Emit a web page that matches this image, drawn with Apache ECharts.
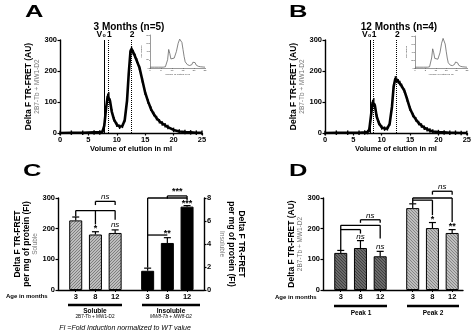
<!DOCTYPE html>
<html>
<head>
<meta charset="utf-8">
<script src="https://cdn.jsdelivr.net/npm/echarts@6/dist/echarts.min.js"></script>
<style>
  body { margin: 0; background: #fff; }
  #main { width: 474px; height: 334px; }
</style>
</head>
<body>
<div id="main"></div>
<script>
const FONT = "'Liberation Sans', Arial, sans-serif";

// elution profiles, panels A and B (ml -> delta F)
const volumes = [0, 2, 4, 6, 7, 7.5, 7.8, 8.1, 8.4, 8.6, 8.8, 9.1, 9.5, 10, 10.5, 11, 11.4, 11.8, 12.1, 12.4, 12.6, 12.9, 13.2, 13.5, 14, 14.5, 15, 15.5, 16, 16.5, 17, 17.5, 18, 18.5, 19, 20, 21, 22, 23, 24, 25]
const months3 = [0, 1, 1, 2, 2, 5, 24, 78, 120, 124, 104, 70, 44, 27, 20, 23, 42, 104, 192, 262, 272, 260, 248, 234, 210, 170, 130, 102, 78, 61, 48, 38, 31, 25, 19, 10, 5, 3, 2, 1, 1]
const months12 = [0, 1, 1, 1, 2, 3, 10, 55, 100, 106, 88, 54, 32, 18, 14, 15, 30, 84, 150, 176, 172, 167, 161, 152, 136, 108, 78, 58, 44, 32, 24, 17, 12, 8, 5, 3, 2, 1, 1, 0, 0]
const marks3 = [7.8, 8.5, 12.5]   // V0, peak 1, peak 2
const marks12 = [7.9, 8.5, 12.6]
const markNames = ['V\u2080', '1', '2']

// small insets
const insetVolumes = [0, 2, 4, 6, 7, 8, 8.5, 9, 9.5, 10, 11, 12, 12.8, 13.5, 14, 14.5, 15, 15.5, 16, 17, 18, 19, 19.5, 20, 20.5, 21, 22, 23, 25]
const inset3 = [2, 2, 2, 2, 3, 20, 45, 35, 22, 20, 24, 40, 60, 70, 70, 62, 45, 28, 15, 8, 6, 8, 14, 17, 13, 7, 4, 3, 2]
const inset12 = [2, 2, 2, 2, 3, 25, 48, 38, 24, 20, 22, 38, 62, 74, 72, 60, 42, 25, 13, 7, 6, 9, 15, 18, 13, 7, 4, 3, 2]

// bar panels C and D
const ageLabels = ['3', '8', '12', '3', '8', '12']
const barPos = [0.9, 1.9, 2.9, 4.55, 5.55, 6.55]
const solubleMean = [227, 181, 186]
const solubleSem = [11, 9, 10]
const insolubleMean = [1.67, 4.09, 7.25]
const insolubleSem = [0.23, 0.46, 0.09]
const peak1Mean = [121, 137, 110]
const peak1Sem = [8, 24, 16]
const peak2Mean = [267, 202, 186]
const peak2Sem = [14, 18, 11]

// significance brackets / labels
const solubleNotes = [
  {xs: [0.9, 1.9, 2.9], level: 259, drops: [240, 214, 229]},
  {xs: [1.9, 2.9], level: 289, drops: [277, 277]},
  {x: 1.9, y: 201, text: '*'},
  {x: 2.9, y: 213, text: 'ns', italic: true},
  {x: 2.4, y: 303, text: 'ns', italic: true}
]
const insolubleNotes = [
  {xs: [4.55, 5.55], level: 4.78, drops: [4.78, 4.78]},
  {xs: [4.55, 6.55], level: 8.0, drops: [1.95, 7.8]},
  {xs: [5.55, 6.55], level: 8.18, drops: [7.95, 7.95]},
  {x: 6.55, y: 7.55, text: '***'},
  {x: 5.55, y: 4.95, text: '**'},
  {x: 6.05, y: 8.6, text: '***'}
]
const peakNotes = [
  {xs: [0.9, 2.9], level: 211, drops: [130, 168]},
  {xs: [0.9, 1.9], level: 197, drops: [197, 184]},
  {xs: [1.9, 2.9], level: 229, drops: [219, 219]},
  {xs: [4.55, 6.55], level: 300, drops: [282, 222]},
  {xs: [4.55, 5.55], level: 293, drops: [293, 244]},
  {xs: [5.55, 6.55], level: 322, drops: [311, 311]},
  {x: 1.9, y: 172, text: 'ns', italic: true},
  {x: 2.9, y: 141, text: 'ns', italic: true},
  {x: 2.4, y: 242, text: 'ns', italic: true},
  {x: 5.55, y: 230, text: '*'},
  {x: 6.55, y: 207, text: '**'},
  {x: 6.05, y: 336, text: 'ns', italic: true}
]

function hatch(bg, fg, step, slash) {
  const c = document.createElement('canvas')
  c.width = c.height = step
  const g = c.getContext('2d')
  g.fillStyle = bg
  g.fillRect(0, 0, step, step)
  g.strokeStyle = fg
  g.lineWidth = 1
  g.beginPath()
  for (let k = -1; k <= 1; k++) {
    if (slash) {
      g.moveTo(-1, step + 1 + k * step)
      g.lineTo(step + 1, -1 + k * step)
    } else {
      g.moveTo(-1, -1 + k * step)
      g.lineTo(step + 1, step + 1 + k * step)
    }
  }
  g.stroke()
  return {image: c, repeat: 'repeat'}
}

const axisLine = {lineStyle: {color: '#000', width: 1.4}}
const tickLabel = {fontSize: 7.5, fontWeight: 'bold', color: '#000', fontFamily: FONT, margin: 3}

function yTitle(lines) {
  return lines.map(l => '{' + l[0] + '|' + l[1] + '}').join('\n')
}

const richY = {
  a: {fontSize: 8.5, fontWeight: 'bold', color: '#000', fontFamily: FONT, lineHeight: 8.5},
  b: {fontSize: 6.5, color: '#777', fontFamily: FONT, lineHeight: 8}
}

function elutionX(grid) {
  return {
    gridIndex: grid, type: 'value', min: 0, max: 25, interval: 5,
    name: 'Volume of elution in ml', nameLocation: 'middle', nameGap: 12,
    nameTextStyle: {fontSize: 7.5, fontWeight: 'bold', color: '#000', fontFamily: FONT},
    axisLine, axisTick: {length: 2.5, lineStyle: {width: 1.2}}, axisLabel: tickLabel, splitLine: {show: false}
  }
}

function deltaY(grid) {
  return {
    gridIndex: grid, type: 'value', min: 0, max: 300, interval: 100,
    name: yTitle([['a', 'Delta F TR-FRET (AU)'], ['b', '2B7-Tb + MW1-D2']]),
    nameLocation: 'middle', nameRotate: 90, nameGap: 19,
    nameTextStyle: {rich: richY},
    axisLine, axisTick: {length: 2.5, lineStyle: {width: 1.2}}, axisLabel: tickLabel, splitLine: {show: false}
  }
}

function insetX(grid) {
  return {
    gridIndex: grid, type: 'value', min: 0, max: 25, interval: 5,
    name: 'Volume of elution in ml', nameLocation: 'middle', nameGap: 4,
    nameTextStyle: {fontSize: 2.5, color: '#333', fontFamily: FONT},
    axisLine: {lineStyle: {color: '#555', width: 0.6}}, axisTick: {length: 1, lineStyle: {width: 0.5}},
    axisLabel: {fontSize: 2.5, color: '#333', margin: 1}, splitLine: {show: false}
  }
}

function insetY(grid) {
  return {
    gridIndex: grid, type: 'value', min: 0, max: 80, interval: 20,
    name: 'OD 280nm', nameLocation: 'middle', nameGap: 5, nameRotate: 90,
    nameTextStyle: {fontSize: 2.5, color: '#333', fontFamily: FONT},
    axisLine: {lineStyle: {color: '#555', width: 0.6}}, axisTick: {length: 1, lineStyle: {width: 0.5}},
    axisLabel: {fontSize: 2.5, color: '#333', margin: 1}, splitLine: {show: false}
  }
}

function ageX(grid, max) {
  return {
    gridIndex: grid, type: 'value', min: 0, max: max,
    axisLine, splitLine: {show: false},
    axisTick: {customValues: barPos, length: 2, lineStyle: {width: 1}},
    axisLabel: Object.assign({}, tickLabel, {
      customValues: barPos,
      formatter: v => {
        let best = 0
        barPos.forEach((p, i) => { if (Math.abs(p - v) < Math.abs(barPos[best] - v)) best = i })
        return ageLabels[best]
      }
    })
  }
}

function curve(xIdx, values, marks) {
  return {
    type: 'line', xAxisIndex: xIdx, yAxisIndex: xIdx,
    data: volumes.map((v, i) => [v, values[i]]),
    lineStyle: {color: '#000', width: 2.6},
    itemStyle: {color: '#000'},
    symbol: 'rect', symbolSize: [1.4, 4.5], showSymbol: true,
    markLine: {
      silent: true, symbol: 'none',
      label: {position: 'end', distance: 1, fontSize: 8.5, fontWeight: 'bold', color: '#000', fontFamily: FONT},
      data: marks.map((m, i) => ({
        xAxis: m,
        lineStyle: {color: '#000', width: 1, type: i === 0 ? 'solid' : 'dotted'},
        label: {formatter: markNames[i], offset: i === 0 ? [-3, 0] : [1, 0]}
      }))
    }
  }
}

function insetCurve(xIdx, values) {
  return {
    type: 'line', xAxisIndex: xIdx, yAxisIndex: xIdx, showSymbol: false,
    data: insetVolumes.map((v, i) => [v, values[i]]),
    lineStyle: {color: '#666', width: 0.8}
  }
}

function bars(xIdx, yIdx, means, offset, color, gap) {
  const s = {
    type: 'bar', xAxisIndex: xIdx, yAxisIndex: yIdx, barWidth: 13,
    data: means.map((v, i) => [barPos[offset + i], v]),
    itemStyle: {color: color, borderColor: '#000', borderWidth: 1}
  }
  if (gap) s.barGap = '-100%'
  return s
}

function errors(xIdx, yIdx, means, sems, offset) {
  return {
    type: 'custom', xAxisIndex: xIdx, yAxisIndex: yIdx, silent: true, z: 4,
    data: means.map((v, i) => [barPos[offset + i], v, v + sems[i]]),
    renderItem: (params, api) => {
      const p0 = api.coord([api.value(0), api.value(1)])
      const p1 = api.coord([api.value(0), api.value(2)])
      const st = {stroke: '#000', lineWidth: 1.2}
      return {type: 'group', children: [
        {type: 'line', shape: {x1: p0[0], y1: p0[1], x2: p1[0], y2: p1[1]}, style: st},
        {type: 'line', shape: {x1: p1[0] - 3.5, y1: p1[1], x2: p1[0] + 3.5, y2: p1[1]}, style: st}
      ]}
    }
  }
}

function notes(xIdx, yIdx, items) {
  return {
    type: 'custom', xAxisIndex: xIdx, yAxisIndex: yIdx, silent: true, z: 5, clip: false,
    data: items.map(it => it.xs ? [it.xs[0], it.level] : [it.x, it.y]),
    renderItem: (params, api) => {
      const it = items[params.dataIndex]
      if (it.text) {
        const p = api.coord([it.x, it.y])
        return {type: 'text', x: p[0], y: p[1], style: {
          text: it.text, fill: '#000',
          font: it.italic ? 'italic 8px ' + FONT : 'bold 9px ' + FONT,
          textAlign: 'center', textVerticalAlign: 'middle', align: 'center', verticalAlign: 'middle'
        }}
      }
      const st = {stroke: '#000', lineWidth: 1.3}
      const top = it.xs.map(x => api.coord([x, it.level]))
      const children = [{type: 'line', shape: {x1: top[0][0], y1: top[0][1], x2: top[top.length - 1][0], y2: top[0][1]}, style: st}]
      it.xs.forEach((x, i) => {
        const b = api.coord([x, it.drops[i]])
        children.push({type: 'line', shape: {x1: b[0], y1: top[i][1], x2: b[0], y2: b[1]}, style: st})
      })
      return {type: 'group', children}
    }
  }
}

function txt(x, y, text, font, align, extra) {
  return Object.assign({type: 'text', x: x, y: y, silent: true, style: {
    text: text, font: font, fill: '#000',
    textAlign: align || 'center', align: align || 'center',
    textVerticalAlign: 'middle', verticalAlign: 'middle'
  }}, extra || {})
}

function rule(x1, x2, y) {
  return {type: 'line', silent: true, shape: {x1: x1, y1: y, x2: x2, y2: y}, style: {stroke: '#000', lineWidth: 2.5}}
}

const chart = echarts.init(document.getElementById('main'))
chart.setOption({
  animation: false,
  backgroundColor: '#fff',
  grid: [
    {left: 60, top: 40, width: 142, height: 93},
    {left: 150, top: 35, width: 55, height: 33},
    {left: 325, top: 40, width: 142, height: 93},
    {left: 415, top: 36, width: 52, height: 32},
    {left: 58, top: 198, width: 146, height: 92},
    {left: 323, top: 198, width: 140, height: 92}
  ],
  xAxis: [
    elutionX(0), insetX(1), elutionX(2), insetX(3),
    ageX(4, 7.41), ageX(5, 7.1)
  ],
  yAxis: [
    deltaY(0), insetY(1), deltaY(2), insetY(3),
    {
      gridIndex: 4, type: 'value', min: 0, max: 300, interval: 100,
      name: yTitle([['a', 'Delta F TR-FRET'], ['a', 'per mg of protein (FI)'], ['b', 'Soluble']]),
      nameLocation: 'middle', nameRotate: 90, nameGap: 15,
      nameTextStyle: {rich: {a: Object.assign({}, richY.a, {lineHeight: 9}), b: richY.b}},
      axisLine, axisTick: {length: 2.5, lineStyle: {width: 1.2}}, axisLabel: tickLabel, splitLine: {show: false}
    },
    {
      gridIndex: 4, type: 'value', position: 'right', min: 0, max: 8, interval: 2,
      name: yTitle([['a', 'Delta F TR-FRET'], ['a', 'per mg of protein (FI)'], ['b', 'Insoluble']]),
      nameLocation: 'middle', nameRotate: -90, nameGap: 14,
      nameTextStyle: {rich: {a: Object.assign({}, richY.a, {lineHeight: 10}), b: richY.b}},
      axisLine, axisTick: {length: 2.5, lineStyle: {width: 1.2}}, axisLabel: tickLabel, splitLine: {show: false}
    },
    deltaY(5)
  ],
  series: [
    curve(0, months3, marks3),
    insetCurve(1, inset3),
    curve(2, months12, marks12),
    insetCurve(3, inset12),
    bars(4, 4, solubleMean, 0, hatch('#bdbdbd', '#7e7e7e', 3, true)),
    bars(4, 5, insolubleMean, 3, '#000', true),
    errors(4, 4, solubleMean, solubleSem, 0),
    errors(4, 5, insolubleMean, insolubleSem, 3),
    notes(4, 4, solubleNotes),
    notes(4, 5, insolubleNotes),
    bars(5, 6, peak1Mean, 0, hatch('#6a6a6a', '#404040', 3, false)),
    bars(5, 6, peak2Mean, 3, hatch('#bebebe', '#858585', 3, false), true),
    errors(5, 6, peak1Mean, peak1Sem, 0),
    errors(5, 6, peak2Mean, peak2Sem, 3),
    notes(5, 6, peakNotes)
  ],
  graphic: [
    txt(25, 12, 'A', 'bold 17px ' + FONT, 'left', {scaleX: 1.5}),
    txt(289, 12, 'B', 'bold 17px ' + FONT, 'left', {scaleX: 1.5}),
    txt(23, 171, 'C', 'bold 17px ' + FONT, 'left', {scaleX: 1.5}),
    txt(289, 171, 'D', 'bold 17px ' + FONT, 'left', {scaleX: 1.5}),
    txt(129, 27, '3 Months (n=5)', 'bold 10px ' + FONT),
    txt(399, 27, '12 Months (n=4)', 'bold 10px ' + FONT),
    txt(6, 296, 'Age in months', 'bold 6px ' + FONT, 'left'),
    txt(275, 297, 'Age in months', 'bold 6px ' + FONT, 'left'),
    rule(68, 122, 305),
    rule(142, 200, 305),
    txt(95, 311, 'Soluble', 'bold 6.5px ' + FONT),
    txt(95, 317, '2B7-Tb + MW1-D2', '4.7px ' + FONT),
    txt(171, 311, 'Insoluble', 'bold 6.5px ' + FONT),
    txt(171, 317, 'MW8-Tb + MW8-D2', 'italic 4.7px ' + FONT),
    txt(125, 328, 'FI =Fold Induction normalized to WT value', 'italic 7px ' + FONT),
    rule(334, 387, 306),
    rule(407, 459, 306),
    txt(361, 313, 'Peak 1', 'bold 6.5px ' + FONT),
    txt(433, 313, 'Peak 2', 'bold 6.5px ' + FONT)
  ]
})
</script>
</body>
</html>
